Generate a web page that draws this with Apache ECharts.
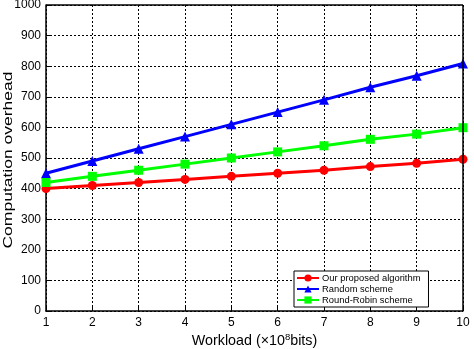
<!DOCTYPE html>
<html>
<head>
<meta charset="utf-8">
<script src="https://cdn.jsdelivr.net/npm/echarts@6/dist/echarts.min.js"></script>
<style>
  html, body { margin: 0; padding: 0; background: #fff; }
  #chart { width: 474px; height: 349px; }
</style>
</head>
<body>
<div id="chart"></div>
<script>
// Workload values (x 10^8 bits)
const workload = [1, 2, 3, 4, 5, 6, 7, 8, 9, 10];
// Computation overhead per scheme
const proposed = [400, 410, 420, 430, 440, 450, 460, 472, 483, 496];
const randomScheme = [450, 490, 530, 570, 610, 650, 690, 731, 769, 809];
const roundRobin = [420, 440, 460, 480, 500, 520, 540, 561, 578, 599];
const seriesNames = ['Our proposed algorithm', 'Random scheme', 'Round-Robin scheme'];
const yTitle = 'Computation overhead';

const FONT = 'Liberation Sans, Arial, sans-serif';

function pairs(values) {
  return workload.map((x, i) => [x, values[i]]);
}

function lineSeries(name, values, color, symbol, size) {
  return {
    name: name,
    type: 'line',
    data: pairs(values),
    symbol: symbol,
    symbolSize: size,
    lineStyle: { color: color, width: 3 },
    itemStyle: { color: color },
    animation: false
  };
}

const chart = echarts.init(document.getElementById('chart'));
chart.setOption({
  backgroundColor: '#fff',
  animation: false,
  grid: { left: 46, right: 11, top: 5, bottom: 38, containLabel: false, outerBoundsMode: 'none' },
  legend: {
    orient: 'vertical',
    left: 294,
    top: 271,
    backgroundColor: '#fff',
    borderColor: '#000',
    borderWidth: 1,
    padding: [1.5, 8, 1.5, 2],
    itemGap: 0,
    itemWidth: 22,
    itemHeight: 9,
    textStyle: { fontFamily: FONT, fontSize: 9.4, color: '#000', padding: [0, 0, 0, -2], lineHeight: 11 },
    data: seriesNames
  },
  xAxis: {
    type: 'value',
    min: 1,
    max: 10,
    interval: 1,
    name: '{a|Workload (×10}{s|8}{a|bits)}',
    nameLocation: 'middle',
    nameGap: 21,
    nameMoveOverlap: false,
    nameTextStyle: {
      rich: {
        a: { fontFamily: FONT, fontSize: 14.3, color: '#000' },
        s: { fontFamily: FONT, fontSize: 9.5, color: '#000', verticalAlign: 'top', padding: [0, 0, 8, 0] }
      }
    },
    axisLine: { show: true, lineStyle: { color: '#000', width: 1.5 } },
    axisTick: { show: true, inside: true, length: 4, lineStyle: { color: '#000' } },
    axisLabel: { fontFamily: FONT, fontSize: 12, color: '#000', margin: 6 },
    splitLine: { show: true, lineStyle: { color: '#000', type: [2, 2], width: 1 } }
  },
  yAxis: {
    type: 'value',
    min: 0,
    max: 1000,
    interval: 100,
    axisLine: { show: true, lineStyle: { color: '#000', width: 1.5 } },
    axisTick: { show: true, inside: true, length: 4, lineStyle: { color: '#000' } },
    axisLabel: { fontFamily: FONT, fontSize: 12, color: '#000', margin: 5, formatter: v => String(v) },
    splitLine: { show: true, lineStyle: { color: '#000', type: [2, 2], width: 1 } }
  },
  series: [
    lineSeries(seriesNames[0], proposed, '#ff0000', 'circle', 9),
    lineSeries(seriesNames[1], randomScheme, '#0000ff', 'triangle', 10),
    lineSeries(seriesNames[2], roundRobin, '#00ff00', 'rect', 9)
  ],
  graphic: [
    // top and right frame lines of the plot box
    { type: 'line', shape: { x1: 46, y1: 5, x2: 463, y2: 5 }, style: { stroke: '#000', lineWidth: 1.5 }, z: 10 },
    { type: 'line', shape: { x1: 463, y1: 5, x2: 463, y2: 311 }, style: { stroke: '#000', lineWidth: 1.5 }, z: 10 },
    // y-axis title, stretched along its baseline
    {
      type: 'text',
      x: 8.5,
      y: 160,
      rotation: Math.PI / 2,
      scaleX: 1.4,
      style: {
        text: yTitle,
        fontFamily: FONT,
        fontSize: 12.5,
        fill: '#000',
        align: 'center',
        verticalAlign: 'middle'
      }
    }
  ]
});
</script>
</body>
</html>
